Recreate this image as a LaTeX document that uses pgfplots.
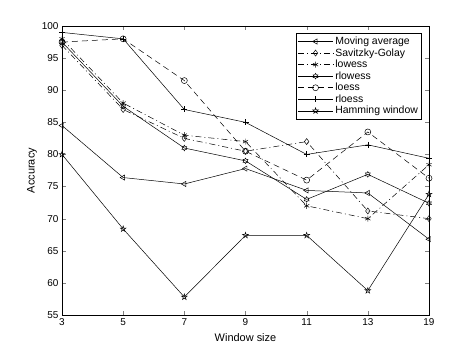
\documentclass[border=0pt]{standalone}
\usepackage{fontspec}
\setmainfont{Liberation Sans}
\usepackage{pgfplots}
\pgfplotsset{compat=1.18}
\pgfdeclareplotmark{pent}{%
 \pgfpathmoveto{\pgfpointpolar{90}{\pgfplotmarksize}}%
 \pgfpathlineto{\pgfpointpolar{126}{0.382\pgfplotmarksize}}%
 \pgfpathlineto{\pgfpointpolar{162}{\pgfplotmarksize}}%
 \pgfpathlineto{\pgfpointpolar{198}{0.382\pgfplotmarksize}}%
 \pgfpathlineto{\pgfpointpolar{234}{\pgfplotmarksize}}%
 \pgfpathlineto{\pgfpointpolar{270}{0.382\pgfplotmarksize}}%
 \pgfpathlineto{\pgfpointpolar{306}{\pgfplotmarksize}}%
 \pgfpathlineto{\pgfpointpolar{342}{0.382\pgfplotmarksize}}%
 \pgfpathlineto{\pgfpointpolar{18}{\pgfplotmarksize}}%
 \pgfpathlineto{\pgfpointpolar{54}{0.382\pgfplotmarksize}}%
 \pgfpathclose\pgfusepathqstroke}
\pgfdeclareplotmark{hexa}{%
 \pgfpathmoveto{\pgfpointpolar{90}{\pgfplotmarksize}}%
 \pgfpathlineto{\pgfpointpolar{120}{0.577\pgfplotmarksize}}%
 \pgfpathlineto{\pgfpointpolar{150}{\pgfplotmarksize}}%
 \pgfpathlineto{\pgfpointpolar{180}{0.577\pgfplotmarksize}}%
 \pgfpathlineto{\pgfpointpolar{210}{\pgfplotmarksize}}%
 \pgfpathlineto{\pgfpointpolar{240}{0.577\pgfplotmarksize}}%
 \pgfpathlineto{\pgfpointpolar{270}{\pgfplotmarksize}}%
 \pgfpathlineto{\pgfpointpolar{300}{0.577\pgfplotmarksize}}%
 \pgfpathlineto{\pgfpointpolar{330}{\pgfplotmarksize}}%
 \pgfpathlineto{\pgfpointpolar{0}{0.577\pgfplotmarksize}}%
 \pgfpathlineto{\pgfpointpolar{30}{\pgfplotmarksize}}%
 \pgfpathlineto{\pgfpointpolar{60}{0.577\pgfplotmarksize}}%
 \pgfpathclose\pgfusepathqstroke}
\begin{document}
\begin{tikzpicture}
\path (-62bp,-40bp) rectangle (412bp,315bp);
\begin{axis}[
  scale only axis, width=367bp, height=289bp,
  at={(0,0)}, anchor=south west,
  xmin=0, xmax=6, ymin=55, ymax=100,
  xtick={0,...,6}, xticklabels={3,5,7,9,11,13,19},
  ytick={55,60,...,100},
  tick align=inside, major tick length=4bp,
  axis line style={black, line width=0.5pt},
  font=\fontsize{10}{12}\selectfont,
  /pgf/number format/assume math mode=true,
  xlabel={Window size}, ylabel={Accuracy},
  label style={font=\fontsize{11}{13}\selectfont},
  xlabel style={yshift=-1bp}, ylabel style={yshift=-2bp},
  every axis plot/.append style={black, line width=0.5pt, mark size=3bp, mark options={solid}},
  legend style={at={(rel axis cs:0.98,0.975)}, anchor=north east, draw=black, line width=0.5pt,
     font=\fontsize{10.5}{11}\selectfont, inner sep=1.5bp, row sep=-1.5bp},
  legend cell align=left,
  legend image code/.code={\draw[mark repeat=2,mark phase=2] plot coordinates {(0cm,0cm)(0.62cm,0cm)(1.24cm,0cm)};},
]
\addplot[mark=triangle, mark options={rotate=90}] coordinates {(0,84.5)(1,76.4)(2,75.4)(3,77.8)(4,74.4)(5,74.0)(6,66.8)};
\addlegendentry{Moving average}
\addplot[dash pattern=on 6bp off 3bp on 1bp off 3bp, mark=diamond] coordinates {(0,97.0)(1,87.0)(2,82.5)(3,80.5)(4,82.0)(5,71.2)(6,70.0)};
\addlegendentry{Savitzky-Golay}
\addplot[dash pattern=on 6bp off 3bp on 1bp off 3bp, mark=asterisk] coordinates {(0,98.0)(1,88.0)(2,83.0)(3,82.0)(4,72.0)(5,70.0)(6,78.4)};
\addlegendentry{lowess}
\addplot[mark=hexa, mark size=2.8bp] coordinates {(0,97.5)(1,87.5)(2,81.0)(3,79.0)(4,73.0)(5,76.9)(6,72.4)};
\addlegendentry{rlowess}
\addplot[dash pattern=on 6bp off 4bp, mark=o] coordinates {(0,97.5)(1,98.0)(2,91.5)(3,80.5)(4,76.0)(5,83.5)(6,76.3)};
\addlegendentry{loess}
\addplot[mark=+] coordinates {(0,99.0)(1,98.0)(2,87.0)(3,85.0)(4,80.0)(5,81.5)(6,79.4)};
\addlegendentry{rloess}
\addplot[mark=pent] coordinates {(0,80.0)(1,68.4)(2,57.8)(3,67.4)(4,67.4)(5,58.8)(6,73.8)};
\addlegendentry{Hamming window}
\end{axis}
\end{tikzpicture}
\end{document}
